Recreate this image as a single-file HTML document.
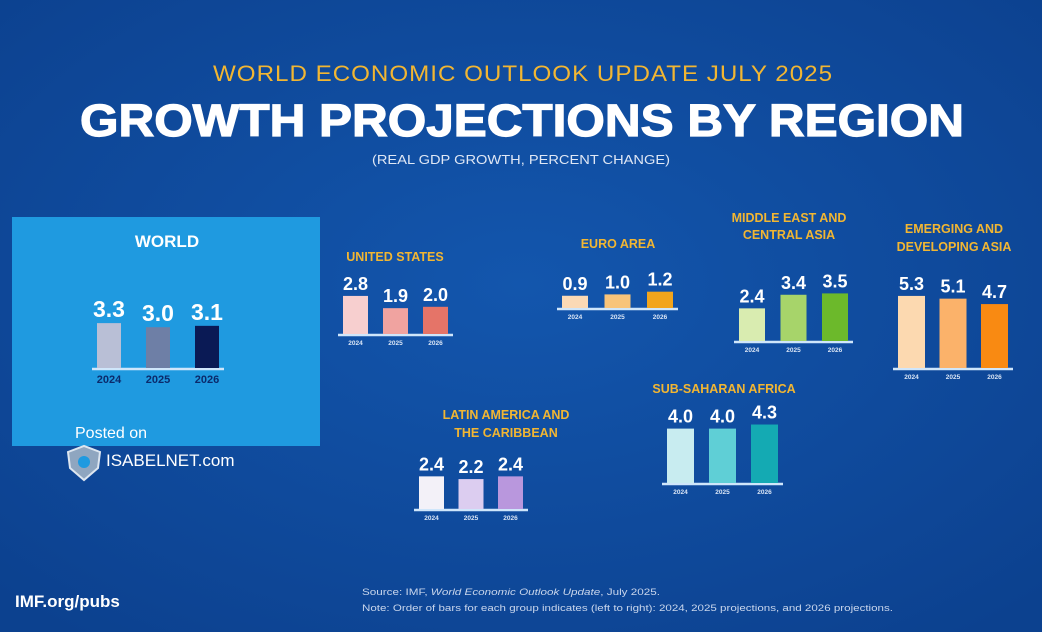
<!DOCTYPE html>
<html><head><meta charset="utf-8">
<style>
html,body{margin:0;padding:0;background:#0f4a9c;}
svg{display:block;font-family:"Liberation Sans",sans-serif;}
</style></head>
<body>
<svg id="chart" width="1042" height="632" viewBox="0 0 1042 632">
<defs>
<radialGradient id="bg" cx="50%" cy="45%" r="70%">
<stop offset="0" stop-color="#1356ad"/><stop offset="1" stop-color="#0c418f"/>
</radialGradient>
</defs>
<rect width="1042" height="632" fill="url(#bg)"/>
<text x="523" y="81" text-anchor="middle" fill="#f2b632" font-size="22" letter-spacing="0.9" textLength="620" lengthAdjust="spacingAndGlyphs">WORLD ECONOMIC OUTLOOK UPDATE JULY 2025</text>
<text x="522" y="136" text-anchor="middle" fill="#ffffff" font-size="45" font-weight="bold" stroke="#ffffff" stroke-width="1.2" textLength="884" lengthAdjust="spacingAndGlyphs">GROWTH PROJECTIONS BY REGION</text>
<text x="521" y="164" text-anchor="middle" fill="#dfe7f5" font-size="13" textLength="298" lengthAdjust="spacingAndGlyphs">(REAL GDP GROWTH, PERCENT CHANGE)</text>
<rect x="12" y="217" width="308" height="229" fill="#1f9ae0"/>
<text x="75" y="438" fill="#ffffff" font-size="16">Posted on</text>
<g>
<path d="M68 452 L84 446 L100 452 L98 468 L84 480 L70 468 Z" fill="#8fa6c0" stroke="#dde6f0" stroke-width="2"/>
<circle cx="84" cy="462" r="6" fill="#1f9ae0"/>
</g>
<text x="106" y="466" fill="#ffffff" font-size="17">ISABELNET.com</text>
<text x="15" y="607" fill="#ffffff" font-size="17" font-weight="bold">IMF.org/pubs</text>
<text x="362" y="595" fill="#c9d6ec" font-size="9" textLength="298" lengthAdjust="spacingAndGlyphs">Source: IMF, <tspan font-style="italic">World Economic Outlook Update</tspan>, July 2025.</text>
<text x="362" y="611" fill="#c9d6ec" font-size="9" textLength="531" lengthAdjust="spacingAndGlyphs">Note:  Order of bars for each group indicates (left to right): 2024, 2025 projections, and 2026 projections.</text>
<g id="panels"></g>
</svg>
<script>
const years = ["2024","2025","2026"];
const worldValues = [3.3, 3.0, 3.1];
const usValues = [2.8, 1.9, 2.0];
const euroValues = [0.9, 1.0, 1.2];
const mecaValues = [2.4, 3.4, 3.5];
const edaValues = [5.3, 5.1, 4.7];
const ssaValues = [4.0, 4.0, 4.3];
const lacValues = [2.4, 2.2, 2.4];
const valueLabels = v => v.toFixed(1);

const NS = "http://www.w3.org/2000/svg";
const scale = 13.6;
const panels = [
 {name:"world", title:["WORLD"], vals:worldValues, x0:97, step:49, w:24, base:368, tx:167, ty:[247], big:true,
  colors:["#b9bfd6","#6e7fa6","#0a1a55"]},
 {name:"united-states", title:["UNITED STATES"], vals:usValues, x0:343, step:40, w:25, base:334, tx:395, ty:[261],
  colors:["#f7cfcf","#f0a3a0","#e57468"]},
 {name:"euro-area", title:["EURO AREA"], vals:euroValues, x0:562, step:42.5, w:26, base:308, tx:618, ty:[248],
  colors:["#fbd9b5","#f8c47a","#f2a51c"]},
 {name:"middle-east-central-asia", title:["MIDDLE EAST AND","CENTRAL ASIA"], vals:mecaValues, x0:739, step:41.5, w:26, base:341, tx:789, ty:[222,239],
  colors:["#d9ecb0","#a7d46a","#6cb92b"]},
 {name:"emerging-developing-asia", title:["EMERGING AND","DEVELOPING ASIA"], vals:edaValues, x0:898, step:41.5, w:27, base:368, tx:954, ty:[233,251],
  colors:["#fcd9b0","#fbb26a","#f98a12"]},
 {name:"sub-saharan-africa", title:["SUB-SAHARAN AFRICA"], vals:ssaValues, x0:667, step:42, w:27, base:483, tx:724, ty:[393],
  colors:["#c8ecf0","#5fcfd6","#14aab3"]},
 {name:"latin-america-caribbean", title:["LATIN AMERICA AND","THE CARIBBEAN"], vals:lacValues, x0:419, step:39.5, w:25, base:509, tx:506, ty:[419,437],
  colors:["#f3f1f8","#dccdf0","#b997dd"]}
];
const root = document.getElementById("panels");
function mk(tag, attrs, parent){const e=document.createElementNS(NS,tag);for(const k in attrs)e.setAttribute(k,attrs[k]);parent.appendChild(e);return e;}
panels.forEach(p=>{
  const g = mk("g",{},root);
  
  
  p.title.forEach((line,i)=>{
    const t = mk("text",{x:p.tx,y:p.ty[i],"text-anchor":"middle",fill:p.big?"#ffffff":"#f2b632","font-size":p.big?17:12.5,"font-weight":"bold"},g);
    
    
    t.textContent = line;
  });
  const xEnd = p.x0 + p.step*2 + p.w;
  const ax = mk("line",{x1:p.x0-5,x2:xEnd+5,y1:p.base+1,y2:p.base+1,stroke:"#cfe6fb","stroke-width":2.5},g);
  
  
  p.vals.forEach((v,i)=>{
    const x = p.x0 + p.step*i;
    const h = v*scale;
    const r = mk("rect",{x:x,y:p.base-h,width:p.w,height:h,fill:p.colors[i]},g);
    
    
    const lt = mk("text",{x:x+p.w/2,y:p.base-h-6,"text-anchor":"middle",fill:"#ffffff","font-size":p.big?23:18,"font-weight":"bold"},g);
    
    
    lt.textContent = valueLabels(v);
    const yt = mk("text",{x:x+p.w/2,y:p.base+(p.big?15:11),"text-anchor":"middle",fill:p.big?"#0b2a6b":"#dbe6f6","font-size":p.big?11:6.5,"font-weight":"bold"},g);
    
    
    yt.textContent = years[i];
  });
});
</script>
</body></html>
